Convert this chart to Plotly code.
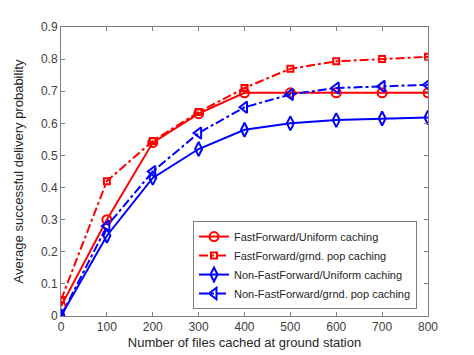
import plotly.graph_objects as go

x_files = [0, 100, 200, 300, 400, 500, 600, 700, 800]
ff_uniform = [0.03, 0.30, 0.54, 0.63, 0.695, 0.695, 0.695, 0.695, 0.695]
ff_grnd = [0.05, 0.42, 0.545, 0.635, 0.71, 0.77, 0.793, 0.80, 0.807]
nff_uniform = [0.0, 0.25, 0.43, 0.52, 0.58, 0.60, 0.61, 0.615, 0.618]
nff_grnd = [0.0, 0.28, 0.45, 0.57, 0.65, 0.69, 0.71, 0.715, 0.72]

names = ["FastForward/Uniform caching", "FastForward/grnd. pop caching",
         "Non-FastForward/Uniform caching", "Non-FastForward/grnd. pop caching"]

RED = "#ff0000"
BLUE = "#0000ff"

fig = go.Figure()
specs = [
    (ff_uniform, names[0], RED, "solid", "circle-open", 9),
    (ff_grnd, names[1], RED, "dashdot", "square-open", 6),
    (nff_uniform, names[2], BLUE, "solid", "diamond-tall-open", 10),
    (nff_grnd, names[3], BLUE, "dashdot", "triangle-left-open", 10),
]
for ys, nm, col, dash, sym, sz in specs:
    fig.add_trace(go.Scatter(
        x=x_files, y=ys, name=nm, mode="lines+markers",
        line=dict(color=col, width=2, dash=dash),
        marker=dict(symbol=sym, size=sz, color=col, line=dict(color=col, width=2)),
    ))

FONT = "Liberation Sans, Arial"
axis_common = dict(
    showline=True, linecolor="#808080", linewidth=1, mirror="ticks",
    ticks="inside", ticklen=4, tickcolor="#808080",
    showgrid=False, zeroline=False, automargin=False,
    tickfont=dict(family=FONT, size=12, color="#404040"),
)
fig.update_xaxes(range=[0, 800], dtick=100, tick0=0,
                 title=dict(text="Number of files cached at ground station",
                            font=dict(family=FONT, size=13, color="#262626"),
                            standoff=4),
                 **axis_common)
fig.update_yaxes(range=[0, 0.9], dtick=0.1, tick0=0, tickformat=".1~f",
                 title=dict(text="Average successful delivery probability",
                            font=dict(family=FONT, size=13, color="#262626"),
                            standoff=14),
                 **axis_common)

fig.update_layout(
    width=466, height=347,
    margin=dict(l=53, r=46, t=19, b=39),
    paper_bgcolor="white", plot_bgcolor="white",
    showlegend=True,
    legend=dict(
        x=0.97, y=0.024, xanchor="right", yanchor="bottom",
        bgcolor="white", bordercolor="#808080", borderwidth=1,
        font=dict(family=FONT, size=11, color="#262626"),
        tracegroupgap=0, itemwidth=30,
    ),
)

fig.write_html("out.html")
